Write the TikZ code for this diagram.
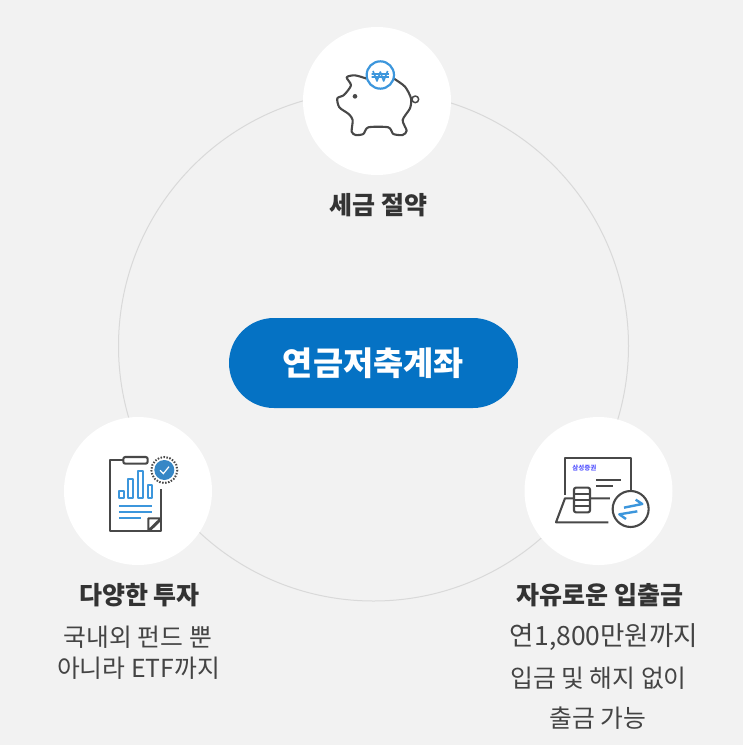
\documentclass[tikz,border=0pt]{standalone}
\usepackage{fontspec}
\setmainfont{Noto Sans CJK KR}
\definecolor{bgc}{HTML}{F2F2F2}
\definecolor{ringc}{HTML}{D9D9D9}
\definecolor{pillc}{HTML}{0572C4}
\definecolor{txtb}{HTML}{333333}
\definecolor{txtr}{HTML}{444444}
\definecolor{iconk}{HTML}{484848}
\definecolor{iconb}{HTML}{3C96DC}
\tikzset{
  disc/.style={circle,fill=white,draw=none,minimum size=148pt,inner sep=0pt},
  pill/.style={rounded corners=45pt,fill=pillc,draw=none,minimum width=289pt,minimum height=90pt,inner sep=0pt,text=white,font=\fontsize{32.8}{33}\selectfont\bfseries},
  head/.style={text=txtb,inner sep=0pt,font=\fontsize{25}{25}\selectfont\bfseries},
  body/.style={text=txtr,inner sep=0pt,font=\fontsize{24.8}{25}\selectfont},
  ik/.style={draw=iconk,line width=2.1pt,line join=round},
  ib/.style={draw=iconb,line width=2.1pt,line join=round},
}
\begin{document}
\begin{tikzpicture}[x=1pt,y=-1pt]
\useasboundingbox (0,0) rectangle (743,745);
\fill[bgc] (0,0) rectangle (743,745);
\draw[ringc,line width=1pt] (373.5,346) circle[radius=255];
\node[disc] (top) at (377,101) {};
\node[disc] (left) at (138,491) {};
\node[disc] (right) at (598.5,491) {};
\node[pill] (main) at (373.5,363) {연금저축계좌};
\node[head] (h1) at (378.5,205) {세금 절약};
\node[head] (h2) at (139.5,595) {다양한 투자};
\node[body] (b21) at (138,637) {국내외 펀드 뿐};
\node[body] (b22) at (138.5,668) {아니라 ETF까지};
\node[head] (h3) at (600,595) {자유로운 입출금};
\node[body,font=\fontsize{26.5}{26}\selectfont] (b31) at (604,637) {연1,800만원까지};
\node[body] (b32) at (598.5,678) {입금 및 해지 없이};
\node[body] (b33) at (598,718) {출금 가능};
% pig
\begin{scope}[xshift=300pt,yshift=-20pt,x=.3333pt,y=-.3333pt]
\draw[ik] plot[smooth,tension=.45] coordinates {(200,176)(165,166)(140,172)(153,196)(132,225)(112,235)(118,262)(146,282)(158,300)(155,335)(167,345)(190,342)(205,322)(265,322)(280,342)(308,345)(320,332)(308,300)(330,265)(333,235)(315,200)(282,176)};
\fill[iconk] (165,229) circle[radius=7];
\draw[ik,line width=1.5pt] (346,238) circle[radius=10] (336,236) -- (331,232);
\draw[ib,fill=white,line width=2.2pt] (241,165) circle[radius=41];
\draw[ib,line width=1.6pt] (219,153) -- (231,183) -- (241,156) -- (251,183) -- (263,153) (215,162) -- (267,162) (215,171) -- (267,171);
\end{scope}
% clipboard
\begin{scope}[xshift=60pt,yshift=-415pt,x=.3333pt,y=-.3333pt]
\draw[ik] (190,135) -- (150,135) -- (150,347) -- (303,347) -- (303,222);
\draw[ik,rounded corners=2pt] (190,126) rectangle (263,146);
\draw[ik] (265,347) -- (265,310) -- (303,310) -- cycle;
\fill[iconk] (265,347) -- (303,310) -- (303,318) -- (273,347) -- cycle;
\draw[ib] (177,228) rectangle (191,250) (205,192) rectangle (219,250) (233,168) rectangle (248,250) (263,210) rectangle (276,250);
\draw[ib] (177,272) -- (277,272) (177,290) -- (277,290) (177,308) -- (243,308);
\fill[iconb!90!black] (313,165) circle[radius=30];
\draw[iconk,line width=2pt,dash pattern=on 1.5pt off 1.5pt] (313,165) circle[radius=39];
\draw[white,line width=1.2pt] (300,166) -- (310,176) -- (327,155);
\end{scope}
% account
\begin{scope}[xshift=520pt,yshift=-415pt,x=.3333pt,y=-.3333pt]
\draw[ik] (135,240) -- (135,128) -- (332,128) -- (332,235);
\node[text=blue!65!white,inner sep=0pt,font=\fontsize{6.5}{6.5}\selectfont\bfseries] (brand) at (193,160) {삼성증권};
\draw[ik] (228,195) -- (302,195) (228,212) -- (280,212);
\draw[ik] (270,250) -- (135,250) -- (108,322) -- (265,322);
\draw[ik,fill=white,rounded corners=2pt] (162,218) rectangle (210,292);
\draw[ik] (162,236) -- (210,236) (162,254) -- (210,254) (162,273) -- (210,273);
\draw[ik,fill=white] (332,282) circle[radius=54];
\draw[ib,line width=2.4pt] (312,278) -- (367,267) -- (347,254) (352,289) -- (298,298) -- (318,312);
\end{scope}
\end{tikzpicture}
\end{document}
